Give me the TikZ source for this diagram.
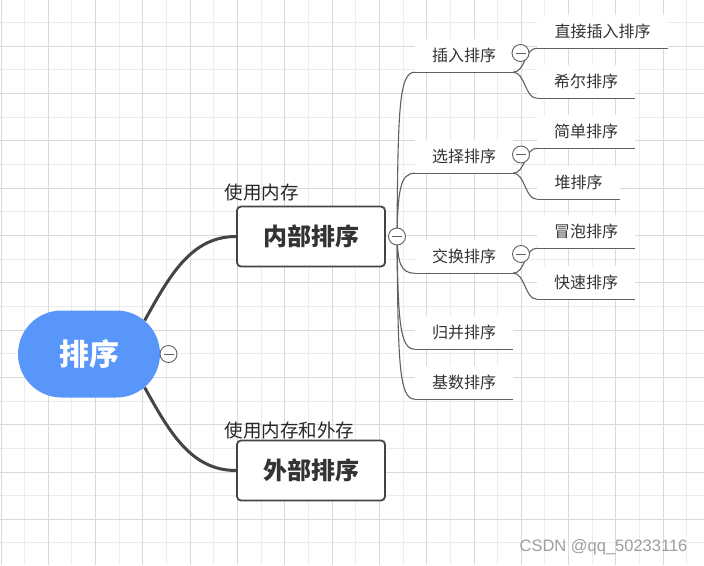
\documentclass[tikz,border=0pt]{standalone}
\usepackage{fontspec}
\newfontfamily\cjk{Noto Sans CJK SC}
\newfontfamily\wmfont{Liberation Sans}
\usetikzlibrary{shapes.misc}
\pgfdeclarelayer{bg}
\pgfsetlayers{bg,main}
\definecolor{gridA}{HTML}{D9D9D9}
\definecolor{gridB}{HTML}{ECECEC}
\definecolor{rootblue}{RGB}{89,150,249}
\definecolor{ink}{HTML}{333333}
\definecolor{edgecol}{HTML}{444444}
\definecolor{thincol}{HTML}{606060}
\tikzset{
  rootnode/.style={rounded rectangle, fill=rootblue, minimum width=142, minimum height=87, inner sep=0,
    text=white, font=\cjk\bfseries\fontsize{30}{30}\selectfont},
  mainbox/.style={draw=edgecol, line width=1.8, fill=white, rounded corners=4, minimum width=148,
    minimum height=60, inner sep=0, text=ink, font=\cjk\bfseries\fontsize{24}{24}\selectfont},
  memo/.style={inner sep=0, text=black!85, font=\cjk\fontsize{18.5}{18.5}\selectfont},
  topic/.style={rectangle, fill=white, minimum width=#1, minimum height=33, inner sep=0,
    text=ink, font=\cjk\fontsize{16}{16}\selectfont},
  topic/.default=98,
  collapse/.style={circle, draw=thincol, line width=0.9, fill=white, minimum size=17, inner sep=0,
    path picture={\draw[thincol, line width=0.9] ([xshift=3.5]path picture bounding box.west) -- ([xshift=-3.5]path picture bounding box.east);}},
  thickedge/.style={draw=edgecol, line width=3},
  thinedge/.style={draw=thincol, line width=1.1},
  uline/.style={draw=thincol, line width=1.3},
  wmark/.style={inner sep=0, text=black!38, font=\wmfont\fontsize{16.5}{16.5}\selectfont}
}
\begin{document}
\begin{tikzpicture}[x=1pt, y=-1pt]
\useasboundingbox (0,0) rectangle (704,565);
\begin{pgfonlayer}{bg}
  \fill[white] (0,0) rectangle (704,565);
  \foreach \j in {0,...,14} {
    \draw[gridB, line width=1] ({24.65+47.3*\j},0) -- ({24.65+47.3*\j},565);
  }
  \foreach \j in {0,...,11} {
    \draw[gridB, line width=1] (0,{22.65+47.3*\j}) -- (704,{22.65+47.3*\j});
  }
  \foreach \j in {0,...,14} {
    \draw[gridA, line width=1] ({1+47.3*\j},0) -- ({1+47.3*\j},565);
  }
  \foreach \j in {0,...,12} {
    \draw[gridA, line width=1] (0,{-1+47.3*\j}) -- (704,{-1+47.3*\j});
  }
\end{pgfonlayer}

% nodes
\node[rootnode] (root) at (89,354) {排序};
\node[mainbox] (inner) at (311,236.5) {内部排序};
\node[mainbox] (outer) at (311,470.5) {外部排序};
\node[memo] (l1) at (261.5,192) {使用内存};
\node[memo] (l2) at (289.5,430) {使用内存和外存};

\node[topic] (n1) at (464,55.5) {插入排序};
\node[topic] (n2) at (464,156.5) {选择排序};
\node[topic] (n3) at (464,256.5) {交换排序};
\node[topic] (n4) at (464,332.5) {归并排序};
\node[topic] (n5) at (464,382.5) {基数排序};

\node[topic=131] (m1) at (602.5,31.5) {直接插入排序};
\node[topic] (m2) at (586,81.5) {希尔排序};
\node[topic] (m3) at (586,131.5) {简单排序};
\node[topic=83] (m4) at (578.5,182.5) {堆排序};
\node[topic] (m5) at (586,231.5) {冒泡排序};
\node[topic] (m6) at (586,282.5) {快速排序};

\node[collapse] (c0) at (168.5,354) {};
\node[collapse] (c1) at (397,236.5) {};
\node[collapse] (c2) at (520.5,53) {};
\node[collapse] (c3) at (521,154.5) {};
\node[collapse] (c4) at (521,254) {};

\node[wmark] (wm) at (603.5,547) {CSDN @qq\_50233116};

% underlines
\foreach \n in {n1,n2,n3,n4,n5,m1,m2,m3,m4,m5,m6} {
  \draw[uline] (\n.south west) -- (\n.south east);
}

% connectors
\begin{pgfonlayer}{bg}
  \draw[thickedge] (root.31) .. controls +(25,-45) and +(-45,0) .. (inner.west);
  \draw[thickedge] (root.-31) .. controls +(25,45) and +(-45,0) .. (outer.west);

  \draw[thinedge] (c1.center) .. controls +(1,-126) and +(-16,0) .. (n1.south west);
  \draw[thinedge] (c1.center) .. controls +(1,-45) and +(-15,0) .. (n2.south west);
  \draw[thinedge] (c1.center) .. controls +(1,25) and +(-15,0) .. (n3.south west);
  \draw[thinedge] (c1.center) .. controls +(1,85) and +(-15,0) .. (n4.south west);
  \draw[thinedge] (c1.center) .. controls +(1,125) and +(-16,0) .. (n5.south west);

  \draw[thinedge] (n1.south east) .. controls +(12,0) and +(-12,0) .. (m1.south west);
  \draw[thinedge] (n1.south east) .. controls +(12,0) and +(-12,0) .. (m2.south west);
  \draw[thinedge] (n2.south east) .. controls +(12,0) and +(-12,0) .. (m3.south west);
  \draw[thinedge] (n2.south east) .. controls +(12,0) and +(-12,0) .. (m4.south west);
  \draw[thinedge] (n3.south east) .. controls +(12,0) and +(-12,0) .. (m5.south west);
  \draw[thinedge] (n3.south east) .. controls +(12,0) and +(-12,0) .. (m6.south west);
\end{pgfonlayer}
\end{tikzpicture}
\end{document}
